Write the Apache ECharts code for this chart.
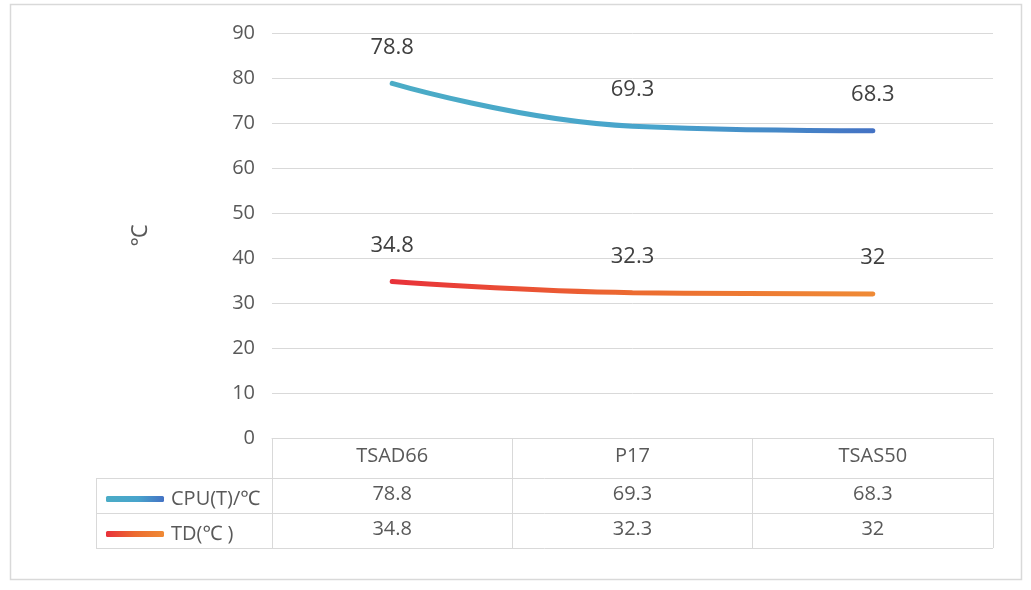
<!DOCTYPE html>
<html>
<head>
<meta charset="utf-8">
<script src="https://cdn.jsdelivr.net/npm/echarts@6/dist/echarts.min.js"></script>
<style>
html,body{margin:0;padding:0;background:#fff;}
#chart{width:1031px;height:590px;}
</style>
</head>
<body>
<div id="chart"></div>
<script>
var categories = ['TSAD66', 'P17', 'TSAS50'];
var cpuName = 'CPU(T)/℃';
var tdName = 'TD(℃ )';
var cpuValues = [78.8, 69.3, 68.3];
var tdValues = [34.8, 32.3, 32];
var yTicks = {min: 0, max: 90, interval: 10};
var yName = '℃';

var FONT = "'Open Sans', 'Noto Sans', sans-serif";
var GRAY = '#595959';
var LINE = '#d9d9d9';

function grad(stops) {
  return new echarts.graphic.LinearGradient(0, 0, 1, 0, stops);
}
var cpuGrad = grad([{offset: 0, color: '#4bacc6'}, {offset: 0.55, color: '#48a4cc'}, {offset: 1, color: '#4472c4'}]);
var tdGrad = grad([{offset: 0, color: '#e8313a'}, {offset: 0.5, color: '#ec6b30'}, {offset: 1, color: '#ef8a35'}]);

var chart = echarts.init(document.getElementById('chart'), null, {renderer: 'canvas'});

function hline(y, x1, x2) {
  return {type: 'line', shape: {x1: x1, y1: y, x2: x2, y2: y}, style: {stroke: LINE, lineWidth: 1}, silent: true};
}
function vline(x, y1, y2) {
  return {type: 'line', shape: {x1: x, y1: y1, x2: x, y2: y2}, style: {stroke: LINE, lineWidth: 1}, silent: true};
}

var option = {
  backgroundColor: '#ffffff',
  animation: false,
  textStyle: {fontFamily: FONT},
  grid: {left: 272, right: 38, top: 33, bottom: 152, containLabel: false},
  legend: {
    orient: 'vertical',
    left: 101,
    top: 484,
    itemWidth: 58,
    itemHeight: 6,
    itemGap: 15,
    icon: 'roundRect',
    textStyle: {fontSize: 20, color: GRAY, fontFamily: FONT, lineHeight: 20, padding: [0, 0, 0, 2]},
    data: [cpuName, tdName]
  },
  xAxis: [
    {
      type: 'category', data: categories, position: 'bottom', boundaryGap: true,
      axisLine: {show: true, lineStyle: {color: LINE, width: 1}},
      axisTick: {show: true, length: 110, interval: 0, lineStyle: {color: LINE}},
      axisLabel: {fontSize: 20, color: GRAY, margin: 8, fontFamily: FONT, interval: 0}
    },
    {
      type: 'category', data: cpuValues.map(String), position: 'bottom', boundaryGap: true,
      axisLine: {show: false}, axisTick: {show: false},
      axisLabel: {fontSize: 20, color: GRAY, margin: 46, fontFamily: FONT, interval: 0}
    },
    {
      type: 'category', data: tdValues.map(String), position: 'bottom', boundaryGap: true,
      axisLine: {show: false}, axisTick: {show: false},
      axisLabel: {fontSize: 20, color: GRAY, margin: 81, fontFamily: FONT, interval: 0}
    }
  ],
  yAxis: {
    type: 'value', min: yTicks.min, max: yTicks.max, interval: yTicks.interval,
    name: yName, nameLocation: 'middle', nameGap: 120, nameRotate: 90,
    nameTextStyle: {fontSize: 22, color: GRAY, fontFamily: FONT},
    axisLine: {show: false}, axisTick: {show: false},
    axisLabel: {fontSize: 20, color: GRAY, margin: 17, fontFamily: FONT},
    splitLine: {show: true, lineStyle: {color: LINE, width: 1}}
  },
  series: [
    {
      name: cpuName, type: 'line', data: cpuValues, smooth: 0.45,
      showSymbol: true, symbol: 'circle', symbolSize: 0,
      lineStyle: {width: 5, color: cpuGrad, cap: 'round'},
      itemStyle: {color: cpuGrad},
      label: {show: true, position: 'top', distance: 25, fontSize: 22, color: '#404040', fontFamily: FONT}
    },
    {
      name: tdName, type: 'line', data: tdValues, smooth: 0.45,
      showSymbol: true, symbol: 'circle', symbolSize: 0,
      lineStyle: {width: 5, color: tdGrad, cap: 'round'},
      itemStyle: {color: tdGrad},
      label: {show: true, position: 'top', distance: 25, fontSize: 22, color: '#404040', fontFamily: FONT}
    }
  ],
  graphic: [
    {type: 'rect', shape: {x: 10.5, y: 4.5, width: 1011, height: 575}, style: {stroke: LINE, fill: null, lineWidth: 1.5}, silent: true},
    hline(478.5, 96, 993),
    hline(513.5, 96, 993),
    hline(548.5, 96, 993),
    vline(96.5, 478, 549)
  ]
};
chart.setOption(option);
</script>
</body>
</html>
